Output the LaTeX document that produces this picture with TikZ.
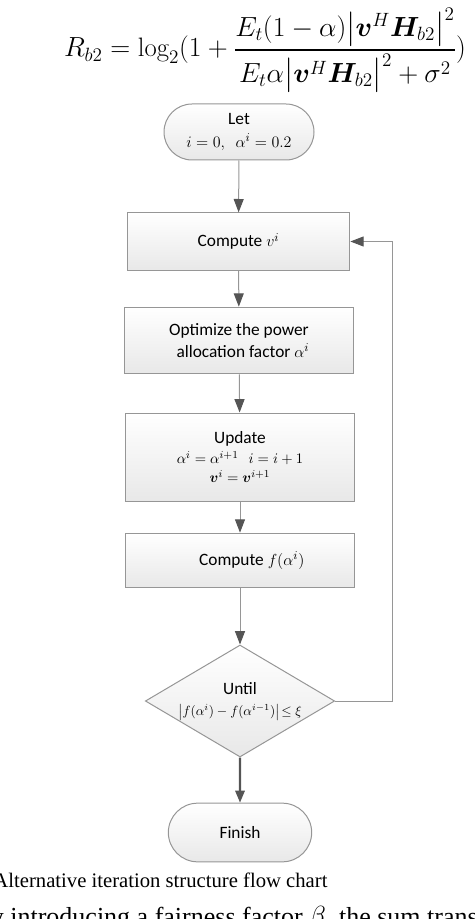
\documentclass[tikz,border=0pt]{standalone}
\usepackage{amsmath}
\usepackage{bm}
\usepackage{fontspec}
\setsansfont{Carlito}
\newfontfamily\capfont{Liberation Serif}
\usetikzlibrary{arrows.meta,shapes.geometric,shapes.misc}

\definecolor{edgegray}{RGB}{150,150,150}
\definecolor{tipgray}{RGB}{85,85,85}

\tikzset{every picture/.style={line width=0.75pt}}
\tikzset{
  procbox/.style={draw=edgegray, top color=white, bottom color=black!9, align=center,
    inner sep=0.75pt, font=\sffamily\fontsize{13}{17}\selectfont},
  termbox/.style={procbox, rounded rectangle},
  decbox/.style={procbox, diamond, aspect=1.7, inner sep=0pt},
  flowarrow/.style={draw=edgegray, -{Triangle[length=10pt,width=7.5pt,color=tipgray,fill=tipgray]}},
  endarrow/.style={draw=tipgray, line width=1.6pt, -{Triangle[length=9pt,width=7pt,color=tipgray,fill=tipgray]}}
}

\begin{document}
\begin{tikzpicture}[x=0.75pt,y=0.75pt,yscale=-1,xscale=1]
			\clip (0,0) rectangle (474,919);
			
			%Formula above the chart
			\node (rate) at (265,50) {\fontsize{20}{24}\selectfont
				$R_{b2}=\log_2(1+\dfrac{E_t(1-\alpha)\bigl|\bm{v}^H\bm{H}_{b2}\bigr|^2}{E_t\alpha\bigl|\bm{v}^H\bm{H}_{b2}\bigr|^2+\sigma^2})$};
			
			%Terminator: start
			\node [termbox, minimum width=114pt, minimum height=42pt] (start) at (239,132) {Let\\$i=0,\ \ \alpha^i=0.2$};
			%Process: compute v
			\node [procbox, minimum width=167pt, minimum height=43pt] (compv) at (238.5,241.5) {Compute $v^i$};
			%Process: optimize
			\node [procbox, minimum width=172pt, minimum height=50pt] (optim) at (239,340.5) {Optimize the power\\\ \ allocation factor $\alpha^i$};
			%Process: update
			\node [procbox, minimum width=172pt, minimum height=66pt] (update) at (240,457) {Update\\[-2pt]
				{\fontsize{11}{13}\selectfont$\alpha^i=\alpha^{i+1}\ \ \ i=i+1$}\\[-3pt]
				{\fontsize{11}{13}\selectfont$\bm{v}^i=\bm{v}^{i+1}$}};
			%Process: compute f
			\node [procbox, minimum width=172pt, minimum height=41pt] (compf) at (240,560.5) {\ \ \ \ \ \ Compute $f(\alpha^i)$};
			%Decision
			\node [decbox, minimum width=142pt, minimum height=84pt] (until) at (240,701) {Until\\[-1pt]
				{\fontsize{10}{12}\selectfont$\bigl|f(\alpha^i)-f(\alpha^{i-1})\bigr|\!\le\xi$}};
			%Terminator: finish
			\node [termbox, minimum width=109pt, minimum height=44pt] (finish) at (240,832.5) {Finish};
			
			%Loop corner
			\coordinate (loop) at (392,241.5);
			
			%Connectors
			\draw [flowarrow] (start) -- (compv);
			\draw [flowarrow] (compv) -- (optim);
			\draw [flowarrow] (optim) -- (update);
			\draw [flowarrow] (update) -- (compf);
			\draw [flowarrow] (compf) -- (until);
			\draw [flowarrow] (until.east) -| (loop) -- (compv.east);
			\draw [endarrow] (until) -- (finish);
			
			%Caption and text below
			\node [anchor=base west, inner sep=0pt, font=\capfont\fontsize{15.5}{18}\selectfont] (caption) at (-7,887) {Alternative iteration structure flow chart};
			\node [anchor=base west, inner sep=0pt, font=\capfont\fontsize{19.5}{22}\selectfont] (bodytext) at (-27,925) {By introducing a fairness factor $\beta$, the sum transmission};
			
\end{tikzpicture}
\end{document}
